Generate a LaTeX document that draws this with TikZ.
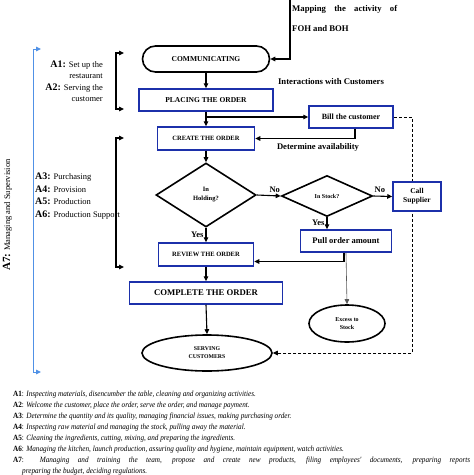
\documentclass[tikz,border=0pt]{standalone}
\usepackage{fontspec}
\setmainfont{Liberation Serif}
\newfontfamily\footfont{Liberation Serif}[FakeStretch=0.9]
\usetikzlibrary{shapes.geometric,arrows.meta}
\pgfdeclarelayer{bg}
\pgfsetlayers{bg,main}
\definecolor{boxblue}{RGB}{28,48,170}
\definecolor{lineblue}{RGB}{80,145,230}
\begin{document}
\begin{tikzpicture}[x=1pt,y=-1pt,
  fs/.style 2 args={font=\fontsize{#1}{#2}\selectfont\bfseries},
  bluebox/.style={draw=boxblue, line width=1.5pt, fill=white, inner sep=1pt, align=center},
  stad/.style={draw, line width=1.6pt, rounded corners=13pt, fill=white, inner sep=1pt},
  dia/.style={diamond, draw, line width=1.6pt, inner sep=0pt, fill=white, align=center},
  oval/.style={ellipse, draw, line width=1.6pt, inner sep=0pt, fill=white, align=center},
  arr/.style={line width=1.1pt, -{Triangle[length=5pt,width=4.5pt]}},
  thinarr/.style={line width=0.6pt, draw=black!65, -{Triangle[length=5pt,width=4.5pt]}},
  dasharr/.style={line width=1pt, dashed, dash pattern=on 3pt off 2pt, -{Triangle[length=5pt,width=4.5pt]}},
  brk/.style={line width=1.2pt, {Triangle[length=5pt,width=4.5pt]}-{Triangle[length=5pt,width=4.5pt]}},
  lbl/.style={fs={8.5}{10}, inner sep=1pt},
  side/.style={font=\fontsize{8.5}{10}\selectfont, inner sep=0pt}
]
\begin{pgfonlayer}{bg}
\fill[white] (0,0) rectangle (474,475);
\end{pgfonlayer}
\useasboundingbox (0,0) rectangle (474,475);

% nodes
\node[stad, fs={7.5}{9}, minimum width=127pt, minimum height=26pt] (comm) at (206,59) {COMMUNICATING};
\node[bluebox, fs={7.5}{9}, minimum width=134pt, minimum height=22pt] (place) at (206,100) {PLACING THE ORDER};
\node[bluebox, fs={6.5}{8}, minimum width=97pt, minimum height=23pt] (create) at (206,138.5) {CREATE THE ORDER};
\node[bluebox, fs={8}{9}, minimum width=84pt, minimum height=22pt] (bill) at (351,117) {Bill the customer};
\node[dia, fs={6.5}{9}, minimum width=100pt, minimum height=64pt] (hold) at (206,195) {In\\Holding?};
\node[dia, fs={6}{8}, minimum width=91pt, minimum height=41pt] (stock) at (327,196) {In Stock?};
\node[bluebox, fs={7.5}{9}, minimum width=48pt, minimum height=29pt] (call) at (417,196.5) {Call\\Supplier};
\node[bluebox, fs={8.5}{10}, minimum width=91pt, minimum height=22pt] (pull) at (346,241) {Pull order amount};
\node[bluebox, fs={6.5}{8}, minimum width=95pt, minimum height=23pt] (review) at (206,254.5) {REVIEW THE ORDER};
\node[bluebox, fs={8.7}{10}, minimum width=153pt, minimum height=22pt] (complete) at (206,293) {COMPLETE THE ORDER};
\node[oval, fs={6}{8}, minimum width=76pt, minimum height=37pt] (excess) at (347,323.5) {Excess to\\Stock};
\node[oval, fs={5.8}{8}, minimum width=130pt, minimum height=36pt] (serve) at (207,353) {SERVING\\CUSTOMERS};

% texts
\node[fs={8.7}{20}, anchor=north west, align=left, inner sep=0pt] (map) at (292,5)
  {\hbox to 105pt{Mapping\hfil the\hfil activity\hfil of}\\FOH and BOH};
\node[fs={8.7}{10}, inner sep=0pt] (inter) at (331,82) {Interactions with Customers};
\node[fs={8.6}{10}, inner sep=0pt] (det) at (318,147) {Determine availability};

\node[side, anchor=east, align=right, font=\fontsize{8.5}{11.5}\selectfont] (a12) at (103,81)
  {{\fontsize{10}{11.5}\selectfont\bfseries A1:} Set up the\\restaurant\\{\fontsize{10}{11.5}\selectfont\bfseries A2:} Serving the\\customer};
\node[side, anchor=west, align=left, font=\fontsize{8.5}{12.7}\selectfont] (a36) at (35,196)
  {{\fontsize{10}{12.7}\selectfont\bfseries A3:} Purchasing\\{\fontsize{10}{12.7}\selectfont\bfseries A4:} Provision\\{\fontsize{10}{12.7}\selectfont\bfseries A5:} Production\\{\fontsize{10}{12.7}\selectfont\bfseries A6:} Production Support};
\node[side, rotate=90, anchor=base west] (a7) at (10,271)
  {{\fontsize{11}{12}\selectfont\bfseries A7:} Managing and Supervision};

% connectors
\coordinate (mtop) at (290,0);
\draw[arr] (mtop) |- (comm.east);
\draw[arr] (comm.south) -- (place.north);
\draw[arr] (place.south) -- (create.north);
\coordinate (br) at (206,117);
\draw[arr] (br) -- (bill.west);
\draw[arr] ([xshift=4pt]bill.south) |- (create.east);
\coordinate (dcol) at (412,0);
\begin{pgfonlayer}{bg}
\draw[dasharr] (bill.east) -- (bill.east -| dcol) |- (serve.east);
\end{pgfonlayer}
\draw[arr] (create.south) -- (hold.north);
\draw[arr] (hold.east) -- (stock.west) node[lbl, pos=0.75, above=2pt] {No};
\draw[arr] (stock.east) -- (call.west) node[lbl, pos=0.35, above=2pt] {No};
\draw[arr] (stock.south) -- (stock.south |- pull.north) node[lbl, pos=0.45, left=1pt] {Yes};
\draw[arr] (hold.south) -- (review.north) node[lbl, pos=0.45, left=1pt] {Yes};
\draw[arr] ([xshift=-2pt]pull.south) |- ([yshift=-7pt]review.east);
\draw[thinarr] (pull.south) -- (excess.north);
\draw[arr] (review.south) -- (complete.north);
\draw[arr] (complete.south) -- (serve.north);

% brackets and side line
\draw[brk] (124,53) -- (116,53) -- (116,109) -- (124,109);
\draw[brk] (124,138) -- (116,138) -- (116,267) -- (124,267);
\draw[line width=1pt, lineblue, {Triangle[length=5pt,width=4.5pt]}-{Triangle[length=5pt,width=4.5pt]}] (41,49) -- (33,49) -- (33,372) -- (41,372);

% footer
\node[anchor=base west, inner sep=0pt] (foot) at (13,396) {\begin{minipage}[t]{457pt}
\footfont\fontsize{8}{11}\selectfont\setlength{\parindent}{0pt}%
\textbf{A1}: \textit{Inspecting materials, disencumber the table, cleaning and organizing activities.}\par
\textbf{A2}: \textit{Welcome the customer, place the order, serve the order, and manage payment.}\par
\textbf{A3}: \textit{Determine the quantity and its quality, managing financial issues, making purchasing order.}\par
\textbf{A4}: \textit{Inspecting raw material and managing the stock, pulling away the material.}\par
\textbf{A5}: \textit{Cleaning the ingredients, cutting, mixing, and preparing the ingredients.}\par
\textbf{A6}: \textit{Managing the kitchen, launch production, assuring quality and hygiene, maintain equipment, watch activities.}\par
\hangindent=9pt\hangafter=1 \textbf{A7}: \textit{Managing and training the team, propose and create new products, filing employees' documents, preparing reports\linebreak preparing the budget, deciding regulations.}\par
\end{minipage}};
\end{tikzpicture}
\end{document}
